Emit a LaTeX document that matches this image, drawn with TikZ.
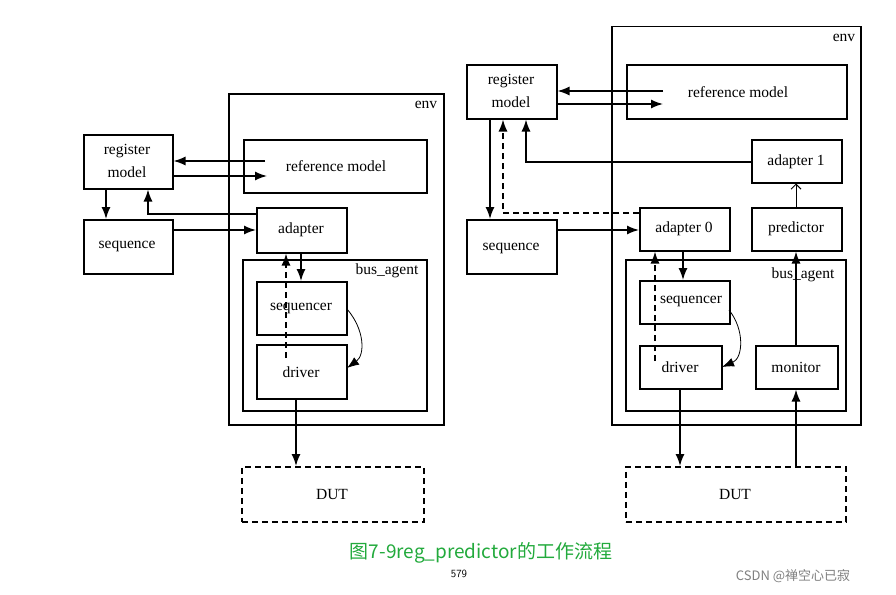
\documentclass[tikz,border=0pt]{standalone}
\usepackage{fontspec}
\setmainfont{Liberation Serif}
\newfontfamily\cjk{Noto Sans CJK SC}
\usetikzlibrary{arrows.meta}
\begin{document}
\begin{tikzpicture}[x=1pt,y=-1pt,line width=1.5pt,
  >={Latex[length=12pt,width=9pt]},
  dsh/.style={dash pattern=on 6pt off 4pt},
  txt/.style={font=\fontsize{15.5}{23}\selectfont,align=center}]
\useasboundingbox[fill=white] (0,0) rectangle (896,594);
\newcommand{\bxx}[6]{\node[draw,line width=1.5pt,minimum width=#4-#2,minimum height=#5-#3,inner sep=0pt,anchor=north west,#6] (#1) at (#2,#3) {};}
% left
\bxx{env}{228}{93}{443}{424}{}
\node[txt] at (426,105) {env};
\bxx{ref}{243}{139}{426}{192}{}
\node[txt] at (336,166) {reference model};
\bxx{reg}{83}{134}{172}{188}{}
\node[txt] at (127,161) {register\\model};
\bxx{seq}{83}{219}{172}{273}{}
\node[txt] at (127,246) {sequence};
\bxx{ada}{256}{207}{346}{252}{}
\node[txt] at (301,230) {adapter};
\bxx{bus}{242}{259}{426}{410}{}
\node[txt] at (387,271) {bus\_agent};
\bxx{sqr}{256}{281}{346}{334}{}
\node[txt] at (301,308) {sequencer};
\bxx{drv}{256}{344}{346}{398}{}
\node[txt] at (301,372) {driver};
\bxx{dut}{241}{466}{423}{521}{dsh}
\node[txt] at (332,494) {DUT};
\coordinate (r1) at (265,161); \coordinate (r2) at (267,176);
\draw[->] (r1) -- (reg.east|-r1);
\draw[->] (reg.east|-r2) -- (r2);
\draw[->] (reg.south-|106,0) -- (seq.north-|106,0);
\draw[->] (ada.west|-0,214) -| (reg.south-|148,0);
\draw[->] (seq.east|-0,230) -- (ada.west|-0,230);
\draw[->] (ada.south-|301,0) -- (sqr.north-|301,0);
\draw[->,dsh] (286,358) -- (ada.south-|286,0);
\draw[->,line width=0.8pt] (347,309) .. controls (365,330) and (365,355) .. (347,368);
\draw[->] (drv.south-|296,0) -- (dut.north-|296,0);
% right
\bxx{envR}{611}{26}{860}{424}{}
\node[txt] at (844,38) {env};
\bxx{refR}{626}{64}{846}{118}{}
\node[txt] at (738,92) {reference model};
\bxx{regR}{466}{64}{556}{118}{}
\node[txt] at (511,91) {register\\model};
\bxx{seqR}{466}{219}{556}{273}{}
\node[txt] at (511,248) {sequence};
\bxx{a1}{751}{139}{841}{182}{}
\node[txt] at (796,162) {adapter 1};
\bxx{a0}{639}{207}{729}{250}{}
\node[txt] at (684,229) {adapter 0};
\bxx{pre}{751}{207}{841}{250}{}
\node[txt] at (796,229) {predictor};
\bxx{busR}{625}{259}{845}{410}{}
\node[txt] at (803,275) {bus\_agent};
\bxx{sqrR}{639}{280}{729}{323}{}
\node[txt] at (691,301) {sequencer};
\bxx{drvR}{639}{345}{721}{388}{}
\node[txt] at (680,367) {driver};
\bxx{mon}{755}{345}{837}{388}{}
\node[txt] at (796,367) {monitor};
\bxx{dutR}{625}{466}{845}{521}{dsh}
\node[txt] at (735,494) {DUT};
\coordinate (q1) at (663,91); \coordinate (q2) at (663,104);
\draw[->] (q1) -- (regR.east|-q1);
\draw[->] (regR.east|-q2) -- (q2);
\draw[->] (regR.south-|490,0) -- (seqR.north-|490,0);
\draw[->,dsh] (a0.west|-0,213) -| (regR.south-|503,0);
\draw[->] (a1.west|-0,162) -| (regR.south-|526,0);
\draw[->] (seqR.east|-0,230) -- (a0.west|-0,230);
\draw[->] (a0.south-|683,0) -- (sqrR.north-|683,0);
\draw[->,dsh] (655,361) -- (a0.south-|655,0);
\draw[->,line width=0.8pt] (729,310) .. controls (745,330) and (743,358) .. (722,367);
\draw[-{Straight Barb[length=5pt,width=10pt]},line width=1pt] (pre.north-|796,0) -- (a1.south-|796,0);
\draw[->] (mon.north-|796,0) -- (pre.south-|796,0);
\draw[->] (drvR.south-|680,0) -- (dutR.north-|680,0);
\draw[->] (dutR.north-|796,0) -- (mon.south-|796,0);
% captions
\node[font=\cjk\fontsize{19}{21}\selectfont,text={rgb,255:red,34;green,170;blue,60}] at (481,553) {图7-9reg\_predictor的工作流程};
\node[font=\sffamily\fontsize{11}{12}\selectfont] at (459,574) {579};
\node[font=\cjk\fontsize{13}{15}\selectfont,text=gray] at (793,576) {CSDN @禅空心已寂};
\end{tikzpicture}
\end{document}
